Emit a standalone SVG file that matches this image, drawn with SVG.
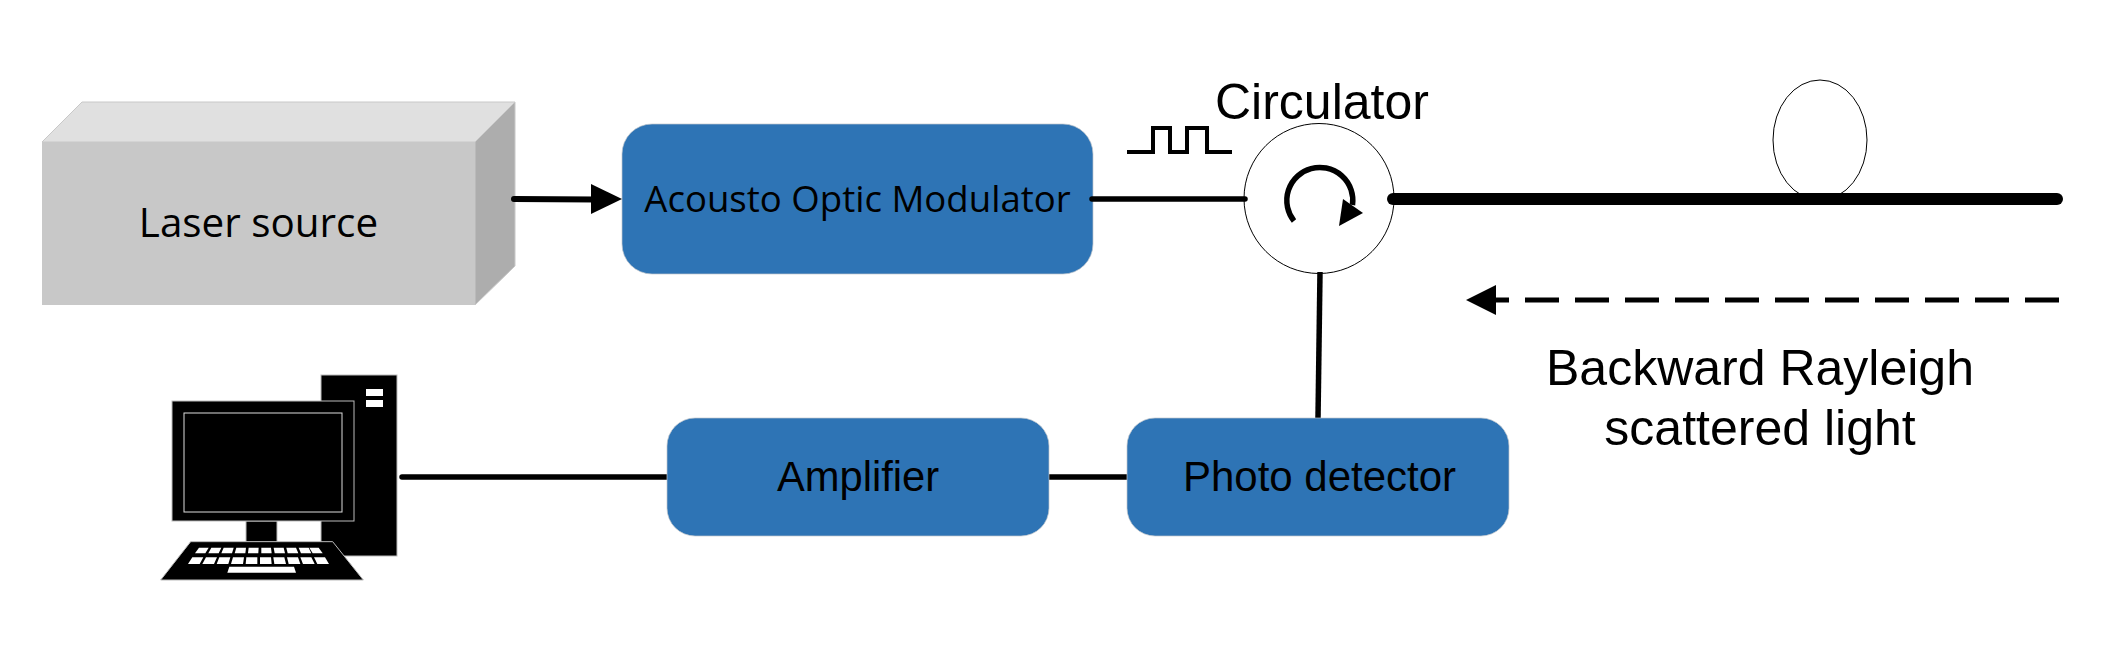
<svg xmlns="http://www.w3.org/2000/svg" width="2109" height="663" viewBox="0 0 2109 663">
<style>
text{fill:#000}
.ar{font-family:"Liberation Sans",Arial,sans-serif}
.os{font-family:"Open Sans","Noto Sans",sans-serif}
.blue{fill:#2e74b5;stroke:#c0c6cc;stroke-width:.7}
.ln{fill:none;stroke:#000;stroke-width:5.5;stroke-linecap:round}
.thin{fill:#fff;stroke:#000;stroke-width:1}
.hd{fill:#000}
.key{fill:#fff}
</style>
<rect width="2109" height="663" fill="#fff"/>
<g id="laser-source">
<polygon points="42,142 82,102 515,102 475,142" fill="#e0e0e0" stroke="#c8c8c8" stroke-width="1"/>
<polygon points="475,142 515,102 515,266 475,305" fill="#adadad" stroke="#c8c8c8" stroke-width="1"/>
<rect x="42" y="142" width="433" height="163" fill="#c8c8c8"/>
<text class="os" x="258.5" y="237" font-size="40.4" text-anchor="middle">Laser source</text>
</g>
<g id="aom">
<rect class="blue" x="622" y="124" width="471" height="150" rx="30" ry="30"/>
<text class="os" x="857.5" y="212" font-size="36.6" text-anchor="middle">Acousto Optic Modulator</text>
</g>
<g id="fiber-loop">
<ellipse class="thin" cx="1820" cy="140" rx="47" ry="60"/>
</g>
<g id="circulator">
<circle class="thin" cx="1319" cy="198.5" r="75"/>
<path d="M1294,221 A33,33 0 1 1 1352.5,205" fill="none" stroke="#000" stroke-width="5.5"/>
<polygon class="hd" points="1343,199 1363,213 1339,226"/>
<text class="ar" x="1215" y="119" font-size="50">Circulator</text>
</g>
<g id="connectors">
<line class="ln" x1="514" y1="199" x2="595" y2="199.5" style="stroke-width:6"/>
<polygon class="hd" points="622,199 591,184 591,214"/>
<line class="ln" x1="1092" y1="199" x2="1245" y2="199"/>
<line class="ln" x1="1393" y1="199" x2="2057" y2="199" style="stroke-width:12"/>
<line class="ln" x1="1320" y1="272" x2="1318" y2="418" style="stroke-linecap:butt"/>
<line class="ln" x1="402" y1="477" x2="667" y2="477"/>
<line class="ln" x1="1049" y1="477" x2="1127" y2="477"/>
<line x1="2059" y1="300" x2="1496" y2="300" stroke="#000" stroke-width="5" stroke-dasharray="34 16"/>
<polygon class="hd" points="1466,300 1496,285 1496,315"/>
<polyline points="1127,152 1153,152 1153,128 1170,128 1170,152 1187,152 1187,128 1207,128 1207,152 1232,152" fill="none" stroke="#000" stroke-width="4"/>
</g>
<g id="amplifier">
<rect class="blue" x="667" y="418" width="382" height="118" rx="28" ry="28"/>
<text class="ar" x="858" y="491" font-size="41.7" text-anchor="middle">Amplifier</text>
</g>
<g id="photo-detector">
<rect class="blue" x="1127" y="418" width="382" height="118" rx="28" ry="28"/>
<text class="ar" x="1319.5" y="491" font-size="42" text-anchor="middle">Photo detector</text>
</g>
<g id="rayleigh-label">
<text class="ar" x="1760" y="385" font-size="50" text-anchor="middle">Backward Rayleigh</text>
<text class="ar" x="1760" y="445" font-size="50" text-anchor="middle">scattered light</text>
</g>
<g id="computer">
<rect x="321" y="375" width="76" height="181" fill="#000" stroke="#bbb" stroke-width="1"/>
<rect class="key" x="366" y="389" width="17" height="7"/>
<rect class="key" x="366" y="400" width="17" height="7"/>
<rect x="246" y="521" width="31" height="21" fill="#000" stroke="#bbb" stroke-width="1"/>
<rect x="172" y="401" width="182" height="120" fill="#000" stroke="#bbb" stroke-width="1"/>
<rect x="184" y="413" width="158" height="99" fill="#000" stroke="#ddd" stroke-width="1"/>
<g transform="translate(160 535) scale(.33333)">
<polygon points="92,20 518,20 610,135 2,135" fill="#000" stroke="#bbb" stroke-width="3"/>
<polygon class="key" points="117,38 146,38 136,55 105,55"/>
<polygon class="key" points="154,38 184,38 176,55 145,55"/>
<polygon class="key" points="191,38 221,38 216,55 184,55"/>
<polygon class="key" points="229,38 258,38 256,55 224,55"/>
<polygon class="key" points="266,38 296,38 295,55 264,55"/>
<polygon class="key" points="304,38 333,38 335,55 304,55"/>
<polygon class="key" points="341,38 371,38 375,55 344,55"/>
<polygon class="key" points="379,38 408,38 415,55 383,55"/>
<polygon class="key" points="416,38 446,38 454,55 423,55"/>
<polygon class="key" points="448,38 476,38 488,55 458,55"/>
<polygon class="key" points="97,67 130,67 119,87 84,87"/>
<polygon class="key" points="138,67 171,67 162,87 127,87"/>
<polygon class="key" points="178,67 211,67 205,87 170,87"/>
<polygon class="key" points="219,67 252,67 249,87 213,87"/>
<polygon class="key" points="259,67 292,67 292,87 257,87"/>
<polygon class="key" points="300,67 333,67 335,87 300,87"/>
<polygon class="key" points="340,67 373,67 378,87 343,87"/>
<polygon class="key" points="381,67 414,67 421,87 386,87"/>
<polygon class="key" points="421,67 454,67 464,87 429,87"/>
<polygon class="key" points="462,67 495,67 507,87 472,87"/>
<polygon class="key" points="208,95 402,95 408,113 202,113"/>
</g>
</g>
</svg>
